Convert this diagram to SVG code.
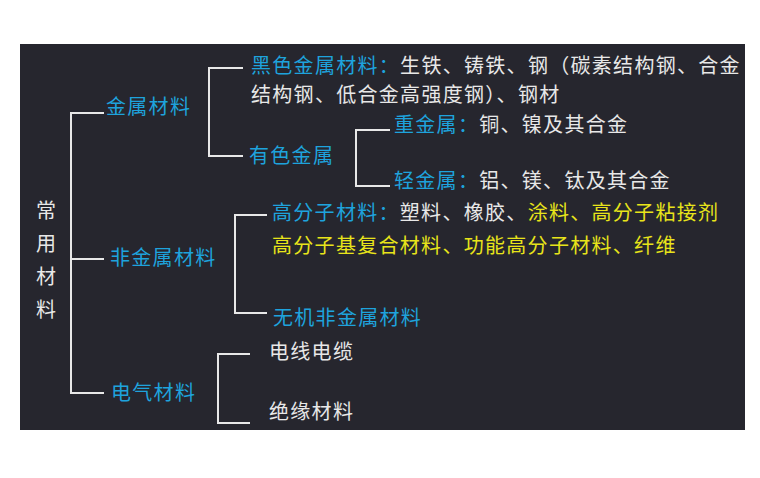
<svg xmlns="http://www.w3.org/2000/svg" width="760" height="478" viewBox="0 0 760 478">
<style>
text{font-family:"Noto Sans CJK SC","Noto Sans",sans-serif;font-size:20px;letter-spacing:1.3px}
.b{fill:#1ea3dd}.w{fill:#e8e8e8}.y{fill:#e8e41a}
.c path{fill:none;stroke:#e8e8e8;stroke-width:2}
</style>
<rect width="760" height="478" fill="#fff"/>
<rect x="20" y="44" width="725" height="386" fill="#26262e"/>
<g class="c" id="connectors">
<path d="M104 113H71V393H104M71 259H104"/>
<path d="M243 68H209V156H243"/>
<path d="M390 130H356V186H390"/>
<path d="M267 215H235V313H267"/>
<path d="M250 354H218V423H250"/>
</g>
<g id="root"><text class="w" x="36" y="218">常</text><text class="w" x="36" y="251">用</text><text class="w" x="36" y="284">材</text><text class="w" x="36" y="317">料</text></g>
<g id="metal"><text class="b" x="106" y="114">金属材料</text></g>
<g id="ferrous"><text x="251" y="73"><tspan class="b">黑色金属材料：</tspan><tspan class="w">生铁、铸铁、钢（碳素结构钢、合金</tspan></text><text class="w" x="251" y="102">结构钢、低合金高强度钢）、钢材</text></g>
<g id="nonferrous"><text class="b" x="249" y="163">有色金属</text></g>
<g id="heavy"><text x="394" y="132"><tspan class="b">重金属：</tspan><tspan class="w">铜、镍及其合金</tspan></text></g>
<g id="light"><text x="394" y="188"><tspan class="b">轻金属：</tspan><tspan class="w">铝、镁、钛及其合金</tspan></text></g>
<g id="nonmetal"><text class="b" x="110" y="265">非金属材料</text></g>
<g id="polymer"><text x="272" y="220"><tspan class="b">高分子材料：</tspan><tspan class="w">塑料、橡胶、</tspan><tspan class="y">涂料、高分子粘接剂</tspan></text><text class="y" x="272" y="253">高分子基复合材料、功能高分子材料、纤维</text></g>
<g id="inorganic"><text class="b" x="273" y="325">无机非金属材料</text></g>
<g id="electric"><text class="b" x="111" y="400">电气材料</text></g>
<g id="wire"><text class="w" x="269" y="359">电线电缆</text></g>
<g id="insul"><text class="w" x="269" y="419">绝缘材料</text></g>
</svg>
